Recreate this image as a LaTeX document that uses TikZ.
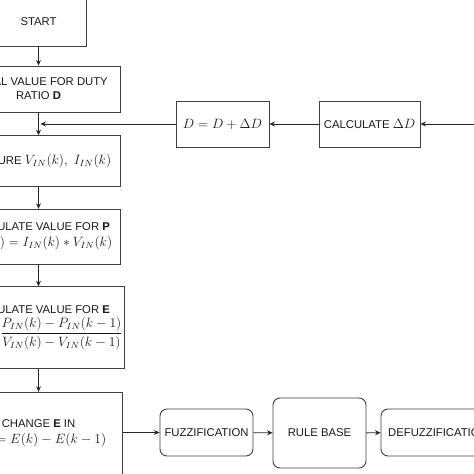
\documentclass[tikz,border=0pt]{standalone}
\usepackage{graphicx}
\usepackage{amsmath}
\usepackage[no-math]{fontspec}
\newfontfamily\arialf{Liberation Sans}
\usetikzlibrary{arrows.meta}
\newcommand\mm[1]{{\fontsize{12}{14}\selectfont\scalebox{1.125}{$#1$}}}
\begin{document}
\begin{tikzpicture}[x=1pt,y=-1pt,
  box/.style={draw=black!75, line width=0.9pt, rectangle, inner sep=2pt, align=center,
    font=\arialf\fontsize{11.3}{16}\selectfont, text=black!90},
  rbox/.style={box, rounded corners=7pt},
  arr/.style={-{Stealth[length=5.5pt,width=5pt]}, line width=0.9pt, draw=black!85}]
\useasboundingbox (0,0) rectangle (474,474);
\clip (0,0) rectangle (474,474);
\fill[white] (0,0) rectangle (474,474);
% left column
\node[box, minimum width=95pt, minimum height=48pt] (start) at (38.5,22) {START};
\node[box, minimum width=163pt, minimum height=46pt] (init) at (38.5,89) {INITIAL VALUE FOR DUTY\\[-2pt]RATIO \textbf{D}};
\node[box, minimum width=163pt, minimum height=51pt] (meas) at (38.5,161.2) {MEASURE \mm{V_{IN}(k),\ I_{IN}(k)}};
\node[box, minimum width=163pt, minimum height=54.7pt] (calcP) at (38.5,236.6) {CALCULATE VALUE FOR \textbf{P}\\[0pt]\mm{P_{IN}(k) = I_{IN}(k) * V_{IN}(k)}};
\node[box, minimum width=167.6pt, minimum height=81.6pt] (calcE) at (38.5,327.5) {CALCULATE VALUE FOR \textbf{E}\\[3pt]\mm{E(k)=\dfrac{P_{IN}(k)-P_{IN}(k-1)}{V_{IN}(k)-V_{IN}(k-1)}}};
\node[box, minimum width=167.6pt, minimum height=82.7pt] (change) at (38.5,433.6) {CHANGE \textbf{E} IN\\[0pt]\mm{\Delta E = E(k)-E(k-1)}};
% top row
\node[box, minimum width=93pt, minimum height=46pt] (dupd) at (222.5,124) {\mm{D = D+\Delta D}};
\node[box, minimum width=101pt, minimum height=46pt] (calcD) at (369.5,124) {CALCULATE \mm{\Delta D}};
% bottom row
\node[rbox, minimum width=93pt, minimum height=47pt] (fuzz) at (206.5,432.5) {FUZZIFICATION};
\node[rbox, minimum width=93pt, minimum height=70pt] (rule) at (319.5,433) {RULE BASE};
\node[rbox, minimum width=114pt, minimum height=47pt] (defuzz) at (438,432.5) {DEFUZZIFICATION};
% coordinates
\coordinate (fbin) at (480,124);
\coordinate (fbout) at (40.5,124);
% connectors
\draw[arr] (start) -- (init);
\draw[arr] (init) -- (meas);
\draw[arr] (meas) -- (calcP);
\draw[arr] (calcP) -- (calcE);
\draw[arr] (calcE) -- (change);
\draw[arr] (change.east |- fuzz.west) -- (fuzz.west);
\draw[arr] (fuzz) -- (rule);
\draw[arr] (rule) -- (defuzz);
\draw[arr] (fbin) -- (calcD.east);
\draw[arr] (calcD.west) -- (dupd.east);
\draw[arr] (dupd.west) -- (fbout);
\end{tikzpicture}
\end{document}
